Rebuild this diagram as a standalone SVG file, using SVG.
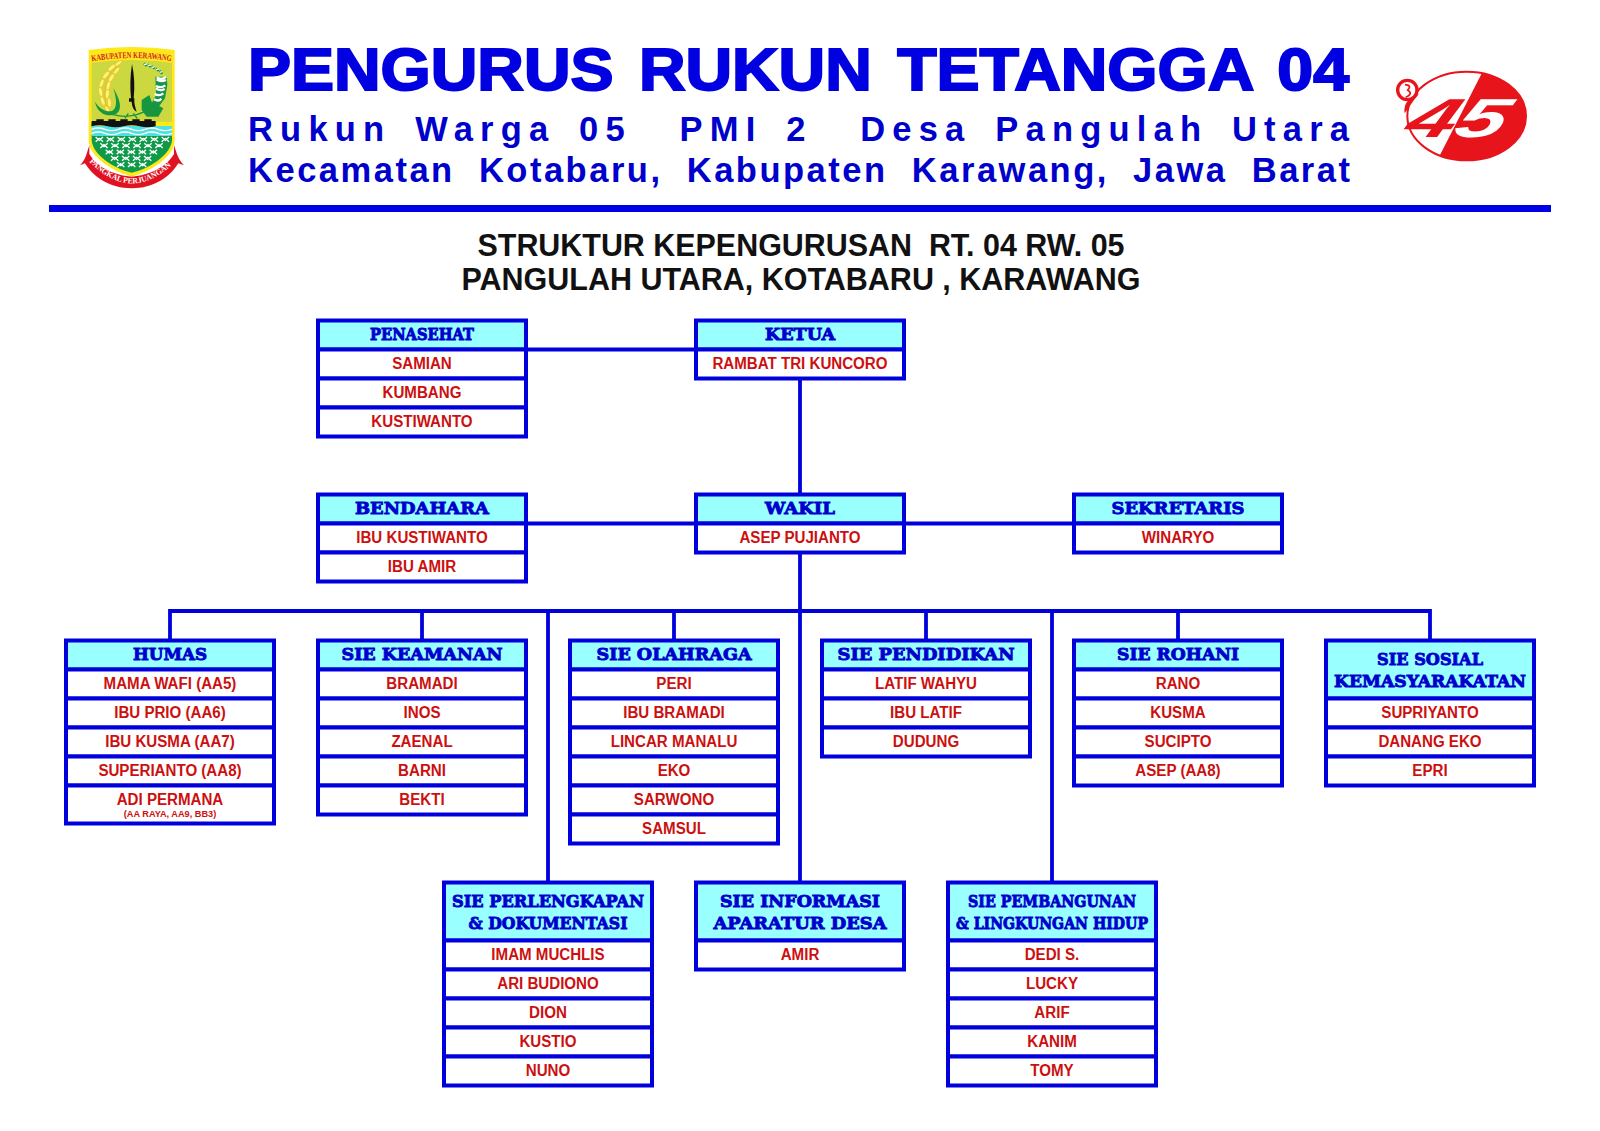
<svg xmlns="http://www.w3.org/2000/svg" width="1600" height="1131" viewBox="0 0 1600 1131">
<style>
text{font-family:"Liberation Sans",Arial,sans-serif;}
.title{font-size:60px;font-weight:bold;fill:#0000e0;stroke:#0000e0;stroke-width:2px;word-spacing:7px;}
.sub{font-size:34.5px;font-weight:bold;fill:#0000cc;white-space:pre;}
.head{font-size:31.5px;font-weight:bold;fill:#111;white-space:pre;text-anchor:middle;}
.h,.c{stroke:#0000dc;stroke-width:4px;}
.h{fill:#99ffff;}
.c{fill:#fff;}
.ht{font-family:"DejaVu Serif",serif;font-size:17.5px;font-weight:bold;fill:#0000cc;text-anchor:middle;stroke:#0000cc;stroke-width:.9px;}
.t{font-size:16px;font-weight:bold;fill:#cc1010;text-anchor:middle;transform-box:fill-box;transform-origin:center;transform:translateY(-.6px) scaleX(.945);}
.n{font-size:9.2px;font-weight:bold;fill:#cc1010;text-anchor:middle;}
.con{fill:none;stroke:#0000dc;stroke-width:3.8px;}
.grain{fill:#fff27a;stroke:#e6c020;stroke-width:2;}
</style>
<defs>
<clipPath id="r45"><path d="M371,0H540V360H187Z"/></clipPath>
<path id="arcTop" d="M125,124Q245,104 366,124"/>
<path id="arcBot" d="M118,425Q245,555 376,425"/>
<g id="wx"><path d="M-11,-7L0,3L11,-7M-11,7L0,-3L11,7" fill="none" stroke="#fff" stroke-width="4"/></g>
</defs>
<rect width="1600" height="1131" fill="#fff"/>

<g id="crest" transform="translate(50,20) scale(.33333)">
<path d="M116,90Q245,72 374,90V360C374,410 300,455 245,470C190,455 116,410 116,360Z" fill="#ffe81a"/>
<path d="M125,128Q245,112 366,128V305H125Z" fill="#cbd840"/>
<path d="M125,345H366V362C360,405 300,445 245,458C190,445 130,405 125,362Z" fill="#0f9a4a"/>
<rect x="125" y="318" width="241" height="30" fill="#4fe0e0"/>
<path d="M125,328q20,-8 40,0t40,0t40,0t40,0t40,0t41,0M125,340q20,-8 40,0t40,0t40,0t40,0t40,0t41,0" fill="none" stroke="#fff" stroke-width="4"/>
<path d="M125,303h14v-5h22v5h14v-5h22v5h14v-5h22v5h14v-5h22v5h14v-5h22v5h12v16q-24,6 -48,0t-48,0t-48,0t-49,0Z" fill="#111"/>
<use href="#wx" x="148" y="358"/><use href="#wx" x="181" y="358"/><use href="#wx" x="214" y="358"/><use href="#wx" x="247" y="358"/><use href="#wx" x="280" y="358"/><use href="#wx" x="313" y="358"/><use href="#wx" x="346" y="358"/>
<use href="#wx" x="162" y="377"/><use href="#wx" x="195" y="377"/><use href="#wx" x="228" y="377"/><use href="#wx" x="261" y="377"/><use href="#wx" x="294" y="377"/><use href="#wx" x="327" y="377"/>
<use href="#wx" x="178" y="396"/><use href="#wx" x="211" y="396"/><use href="#wx" x="244" y="396"/><use href="#wx" x="277" y="396"/><use href="#wx" x="310" y="396"/>
<use href="#wx" x="194" y="415"/><use href="#wx" x="227" y="415"/><use href="#wx" x="260" y="415"/><use href="#wx" x="293" y="415"/>
<use href="#wx" x="212" y="434"/><use href="#wx" x="245" y="434"/><use href="#wx" x="278" y="434"/>
<path d="M90,436C108,420 112,392 118,376V402C140,440 190,466 245,470C300,466 350,440 372,402V376C378,392 384,420 402,436L385,430C360,472 310,505 245,505C180,505 130,472 105,430Z" fill="#e01222"/>
<text style="font-family:'Liberation Serif',serif" font-size="26" font-weight="bold" fill="#d3202a"><textPath href="#arcTop" textLength="240" lengthAdjust="spacingAndGlyphs">KABUPATEN KERAWANG</textPath></text>
<path d="M213,128C170,160 150,210 175,275" fill="none" stroke="#e6c020" stroke-width="3"/>
<g class="grain"><ellipse cx="205" cy="130" rx="13" ry="5" transform="rotate(-35 205 130)"/><ellipse cx="185" cy="143" rx="14" ry="6" transform="rotate(-40 185 143)"/><ellipse cx="200" cy="152" rx="13" ry="5" transform="rotate(-50 200 152)"/><ellipse cx="168" cy="165" rx="14" ry="6" transform="rotate(-50 168 165)"/><ellipse cx="184" cy="174" rx="14" ry="6" transform="rotate(-60 184 174)"/><ellipse cx="155" cy="190" rx="14" ry="6" transform="rotate(-70 155 190)"/><ellipse cx="175" cy="197" rx="14" ry="6" transform="rotate(-75 175 197)"/><ellipse cx="152" cy="216" rx="14" ry="6" transform="rotate(80 152 216)"/><ellipse cx="172" cy="222" rx="14" ry="6" transform="rotate(-85 172 222)"/><ellipse cx="158" cy="243" rx="14" ry="6" transform="rotate(70 158 243)"/><ellipse cx="178" cy="248" rx="14" ry="6" transform="rotate(85 178 248)"/><ellipse cx="172" cy="268" rx="12" ry="5" transform="rotate(60 172 268)"/></g>
<path d="M135,245C140,275 165,290 190,285C215,280 218,250 190,205C205,250 198,274 180,274C160,274 145,262 135,245Z" fill="#18963f"/>
<path d="M190,284Q240,298 290,272M235,280L225,295M250,280L262,296" fill="none" stroke="#18963f" stroke-width="4"/>
<path d="M246,132C240,170 240,205 243,235H237V245H245C246,258 250,270 260,275C256,262 253,252 253,245V235H251C255,200 253,165 246,132Z" fill="#111"/>
<path d="M316,170L350,170L352,195L345,235L325,262L305,250L318,225Z" fill="#17964a"/>
<path d="M282,130l8,8M294,133l8,8M306,138l8,8M318,145l8,8M330,152l6,10" fill="none" stroke="#17964a" stroke-width="7"/>
<path d="M282,134l8,-2M294,137l8,-2M306,142l8,-2M318,149l8,-2M330,157l6,-2" fill="none" stroke="#fff" stroke-width="4"/>
<path d="M320,172q15,10 28,-2M320,178q12,10 28,2M318,198q15,8 28,-2M318,205q12,10 26,2M314,222q14,8 26,-2M312,238q14,8 22,-2" fill="none" stroke="#fff" stroke-width="7"/>
<path d="M275,240L298,225L305,245L340,265L325,290L290,290L275,270Z" fill="#18963f"/>
<text style="font-family:'Liberation Serif',serif" font-size="24" font-weight="bold" fill="#fff"><textPath href="#arcBot" textLength="280" lengthAdjust="spacingAndGlyphs">PANGKAL PERJUANGAN</textPath></text>
</g>

<g id="logo45" transform="translate(1370,50) scale(.33333)">
<ellipse cx="290" cy="198" rx="178" ry="133" fill="#fff" stroke="#e8141c" stroke-width="6"/>
<ellipse cx="290" cy="198" rx="178" ry="133" fill="#e8141c" clip-path="url(#r45)"/>
<path d="M148,130C125,145 100,150 104,190L132,150Z" fill="#e8141c"/>
<circle cx="112" cy="120" r="29" fill="#fff" stroke="#e8141c" stroke-width="10"/>
<path d="M105,104q22,2 8,16q18,12 -6,22" fill="none" stroke="#e8141c" stroke-width="5"/>
<text font-size="220" font-weight="bold" font-style="italic" transform="translate(95,260) scale(1,.75) skewX(-18)" fill="#e8141c" textLength="295" lengthAdjust="spacingAndGlyphs">45</text>
<g clip-path="url(#r45)"><text font-size="220" font-weight="bold" font-style="italic" transform="translate(95,260) scale(1,.75) skewX(-18)" fill="#fff" textLength="295" lengthAdjust="spacingAndGlyphs">45</text></g>
</g>

<text class="title" x="248" y="90" textLength="1101" lengthAdjust="spacingAndGlyphs">PENGURUS RUKUN TETANGGA 04</text>
<text class="sub" x="248" y="141" textLength="1101" lengthAdjust="spacing" style="word-spacing:7px">Rukun Warga 05  PMI 2  Desa Pangulah Utara</text>
<text class="sub" x="248" y="182" textLength="1102" lengthAdjust="spacing">Kecamatan  Kotabaru,  Kabupaten  Karawang,  Jawa  Barat</text>
<rect x="49" y="205" width="1502" height="7" fill="#0000e6"/>
<text class="head" x="801" y="255.5" textLength="647" lengthAdjust="spacingAndGlyphs">STRUKTUR KEPENGURUSAN  RT. 04 RW. 05</text>
<text class="head" x="801" y="289.5" textLength="679" lengthAdjust="spacingAndGlyphs">PANGULAH UTARA, KOTABARU , KARAWANG</text>

<g id="connectors" class="con">
<path d="M526,349.5H696M800,378.5V494.5M526,523.5H696M904,523.5H1074M800,552.5V882.5M170,640.5V611H1430V640.5M422,611V640.5M674,611V640.5M926,611V640.5M1178,611V640.5M548,611V882.5M1052,611V882.5"/>
</g>

<g id="penasehat"><rect class="h" x="318" y="320.5" width="208" height="29"/><rect class="c" x="318" y="349.5" width="208" height="29"/><rect class="c" x="318" y="378.5" width="208" height="29"/><rect class="c" x="318" y="407.5" width="208" height="29"/>
<text class="ht" x="422" y="340" style="font-size:16px" textLength="104" lengthAdjust="spacingAndGlyphs">PENASEHAT</text><text class="t" x="422" y="369.5">SAMIAN</text><text class="t" x="422" y="398.5">KUMBANG</text><text class="t" x="422" y="427.5">KUSTIWANTO</text></g>

<g id="ketua"><rect class="h" x="696" y="320.5" width="208" height="29"/><rect class="c" x="696" y="349.5" width="208" height="29"/>
<text class="ht" x="800" y="340" textLength="70" lengthAdjust="spacingAndGlyphs">KETUA</text><text class="t" x="800" y="369.5">RAMBAT TRI KUNCORO</text></g>

<g id="bendahara"><rect class="h" x="318" y="494.5" width="208" height="29"/><rect class="c" x="318" y="523.5" width="208" height="29"/><rect class="c" x="318" y="552.5" width="208" height="29"/>
<text class="ht" x="422" y="514" textLength="134" lengthAdjust="spacingAndGlyphs">BENDAHARA</text><text class="t" x="422" y="543.5">IBU KUSTIWANTO</text><text class="t" x="422" y="572.5">IBU AMIR</text></g>

<g id="wakil"><rect class="h" x="696" y="494.5" width="208" height="29"/><rect class="c" x="696" y="523.5" width="208" height="29"/>
<text class="ht" x="800" y="514" textLength="70" lengthAdjust="spacingAndGlyphs">WAKIL</text><text class="t" x="800" y="543.5">ASEP PUJIANTO</text></g>

<g id="sekretaris"><rect class="h" x="1074" y="494.5" width="208" height="29"/><rect class="c" x="1074" y="523.5" width="208" height="29"/>
<text class="ht" x="1178" y="514" textLength="133" lengthAdjust="spacingAndGlyphs">SEKRETARIS</text><text class="t" x="1178" y="543.5">WINARYO</text></g>

<g id="humas"><rect class="h" x="66" y="640.5" width="208" height="29"/><rect class="c" x="66" y="669.5" width="208" height="29"/><rect class="c" x="66" y="698.5" width="208" height="29"/><rect class="c" x="66" y="727.5" width="208" height="29"/><rect class="c" x="66" y="756.5" width="208" height="29"/><rect class="c" x="66" y="785.5" width="208" height="38"/>
<text class="ht" x="170" y="660" textLength="74" lengthAdjust="spacingAndGlyphs">HUMAS</text><text class="t" x="170" y="689.5">MAMA WAFI (AA5)</text><text class="t" x="170" y="718.5">IBU PRIO (AA6)</text><text class="t" x="170" y="747.5">IBU KUSMA (AA7)</text><text class="t" x="170" y="776.5">SUPERIANTO (AA8)</text><text class="t" x="170" y="805.5">ADI PERMANA</text><text class="n" x="170" y="816.5">(AA RAYA, AA9, BB3)</text></g>

<g id="keamanan"><rect class="h" x="318" y="640.5" width="208" height="29"/><rect class="c" x="318" y="669.5" width="208" height="29"/><rect class="c" x="318" y="698.5" width="208" height="29"/><rect class="c" x="318" y="727.5" width="208" height="29"/><rect class="c" x="318" y="756.5" width="208" height="29"/><rect class="c" x="318" y="785.5" width="208" height="29"/>
<text class="ht" x="422" y="660" textLength="161" lengthAdjust="spacingAndGlyphs">SIE KEAMANAN</text><text class="t" x="422" y="689.5">BRAMADI</text><text class="t" x="422" y="718.5">INOS</text><text class="t" x="422" y="747.5">ZAENAL</text><text class="t" x="422" y="776.5">BARNI</text><text class="t" x="422" y="805.5">BEKTI</text></g>

<g id="olahraga"><rect class="h" x="570" y="640.5" width="208" height="29"/><rect class="c" x="570" y="669.5" width="208" height="29"/><rect class="c" x="570" y="698.5" width="208" height="29"/><rect class="c" x="570" y="727.5" width="208" height="29"/><rect class="c" x="570" y="756.5" width="208" height="29"/><rect class="c" x="570" y="785.5" width="208" height="29"/><rect class="c" x="570" y="814.5" width="208" height="29"/>
<text class="ht" x="674" y="660" textLength="155" lengthAdjust="spacingAndGlyphs">SIE OLAHRAGA</text><text class="t" x="674" y="689.5">PERI</text><text class="t" x="674" y="718.5">IBU BRAMADI</text><text class="t" x="674" y="747.5">LINCAR MANALU</text><text class="t" x="674" y="776.5">EKO</text><text class="t" x="674" y="805.5">SARWONO</text><text class="t" x="674" y="834.5">SAMSUL</text></g>

<g id="pendidikan"><rect class="h" x="822" y="640.5" width="208" height="29"/><rect class="c" x="822" y="669.5" width="208" height="29"/><rect class="c" x="822" y="698.5" width="208" height="29"/><rect class="c" x="822" y="727.5" width="208" height="29"/>
<text class="ht" x="926" y="660" textLength="177" lengthAdjust="spacingAndGlyphs">SIE PENDIDIKAN</text><text class="t" x="926" y="689.5">LATIF WAHYU</text><text class="t" x="926" y="718.5">IBU LATIF</text><text class="t" x="926" y="747.5">DUDUNG</text></g>

<g id="rohani"><rect class="h" x="1074" y="640.5" width="208" height="29"/><rect class="c" x="1074" y="669.5" width="208" height="29"/><rect class="c" x="1074" y="698.5" width="208" height="29"/><rect class="c" x="1074" y="727.5" width="208" height="29"/><rect class="c" x="1074" y="756.5" width="208" height="29"/>
<text class="ht" x="1178" y="660" textLength="122" lengthAdjust="spacingAndGlyphs">SIE ROHANI</text><text class="t" x="1178" y="689.5">RANO</text><text class="t" x="1178" y="718.5">KUSMA</text><text class="t" x="1178" y="747.5">SUCIPTO</text><text class="t" x="1178" y="776.5">ASEP (AA8)</text></g>

<g id="sosial"><rect class="h" x="1326" y="640.5" width="208" height="58"/><rect class="c" x="1326" y="698.5" width="208" height="29"/><rect class="c" x="1326" y="727.5" width="208" height="29"/><rect class="c" x="1326" y="756.5" width="208" height="29"/>
<text class="ht" x="1430" y="664.5" textLength="106" lengthAdjust="spacingAndGlyphs">SIE SOSIAL</text><text class="ht" x="1430" y="686.5" textLength="192" lengthAdjust="spacingAndGlyphs">KEMASYARAKATAN</text><text class="t" x="1430" y="718.5">SUPRIYANTO</text><text class="t" x="1430" y="747.5">DANANG EKO</text><text class="t" x="1430" y="776.5">EPRI</text></g>

<g id="perlengkapan"><rect class="h" x="444" y="882.5" width="208" height="58"/><rect class="c" x="444" y="940.5" width="208" height="29"/><rect class="c" x="444" y="969.5" width="208" height="29"/><rect class="c" x="444" y="998.5" width="208" height="29"/><rect class="c" x="444" y="1027.5" width="208" height="29"/><rect class="c" x="444" y="1056.5" width="208" height="29"/>
<text class="ht" x="548" y="906.5" textLength="192" lengthAdjust="spacingAndGlyphs">SIE PERLENGKAPAN</text><text class="ht" x="548" y="928.5" textLength="159" lengthAdjust="spacingAndGlyphs">&amp; DOKUMENTASI</text><text class="t" x="548" y="960.5">IMAM MUCHLIS</text><text class="t" x="548" y="989.5">ARI BUDIONO</text><text class="t" x="548" y="1018.5">DION</text><text class="t" x="548" y="1047.5">KUSTIO</text><text class="t" x="548" y="1076.5">NUNO</text></g>

<g id="informasi"><rect class="h" x="696" y="882.5" width="208" height="58"/><rect class="c" x="696" y="940.5" width="208" height="29"/>
<text class="ht" x="800" y="906.5" textLength="160" lengthAdjust="spacingAndGlyphs">SIE INFORMASI</text><text class="ht" x="800" y="928.5" textLength="173" lengthAdjust="spacingAndGlyphs">APARATUR DESA</text><text class="t" x="800" y="960.5">AMIR</text></g>

<g id="pembangunan"><rect class="h" x="948" y="882.5" width="208" height="58"/><rect class="c" x="948" y="940.5" width="208" height="29"/><rect class="c" x="948" y="969.5" width="208" height="29"/><rect class="c" x="948" y="998.5" width="208" height="29"/><rect class="c" x="948" y="1027.5" width="208" height="29"/><rect class="c" x="948" y="1056.5" width="208" height="29"/>
<text class="ht" x="1052" y="906.5" textLength="168" lengthAdjust="spacingAndGlyphs">SIE PEMBANGUNAN</text><text class="ht" x="1052" y="928.5" textLength="192" lengthAdjust="spacingAndGlyphs">&amp; LINGKUNGAN HIDUP</text><text class="t" x="1052" y="960.5">DEDI S.</text><text class="t" x="1052" y="989.5">LUCKY</text><text class="t" x="1052" y="1018.5">ARIF</text><text class="t" x="1052" y="1047.5">KANIM</text><text class="t" x="1052" y="1076.5">TOMY</text></g>
</svg>
